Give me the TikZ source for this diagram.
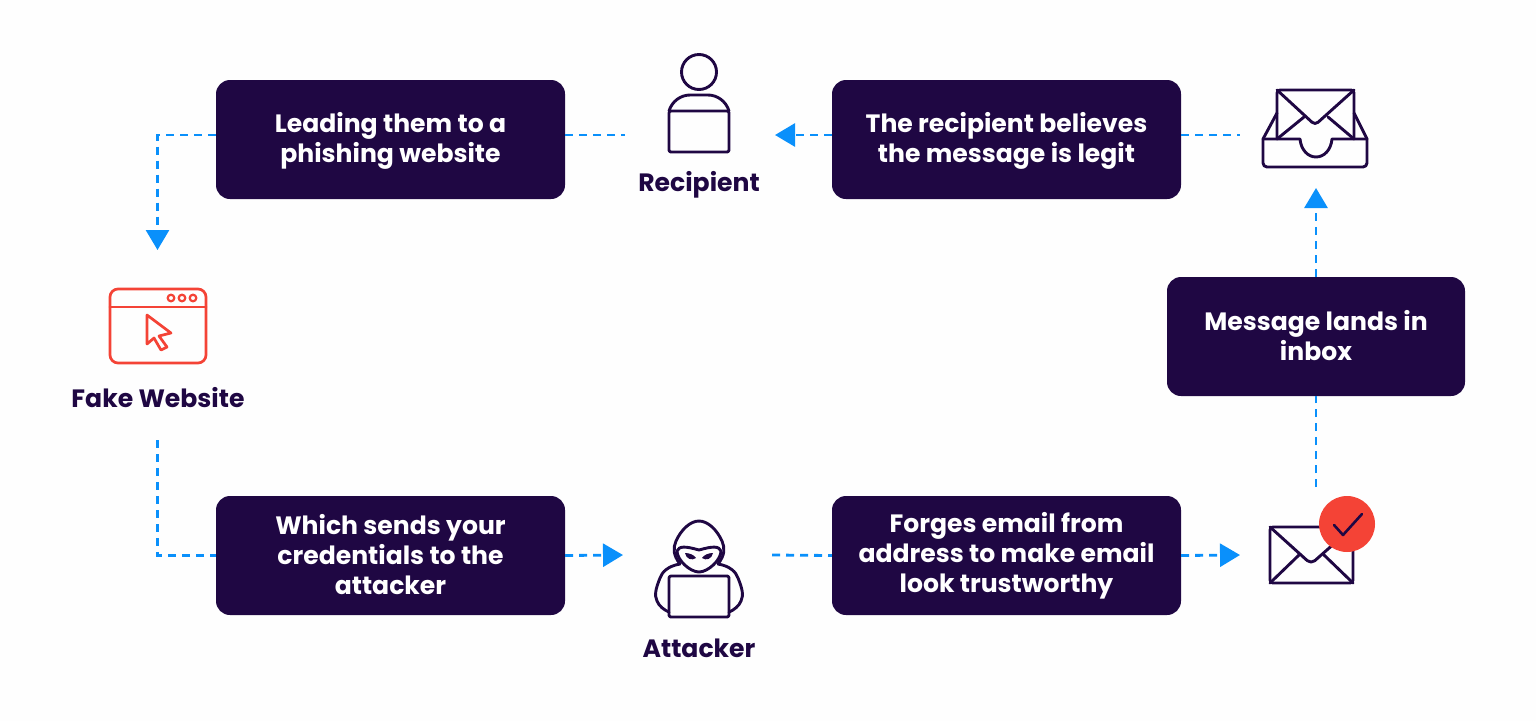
\documentclass[tikz,border=0pt]{standalone}
\usepackage{fontspec}
\setmainfont{Poppins}
\usetikzlibrary{arrows.meta}
\definecolor{ink}{HTML}{1F0743}
\definecolor{flow}{HTML}{0A90FB}
\definecolor{alert}{HTML}{F44336}
\definecolor{paper}{HTML}{FEFEFE}
\newcommand{\ls}{\rule[-4pt]{0pt}{25pt}}
\newcommand{\lt}{\rule[-2pt]{0pt}{25pt}}
\tikzset{
  msgbox/.style={fill=ink,rounded corners=14pt,text=white,align=center,inner sep=0pt,
    font=\fontsize{25.1}{30}\selectfont\bfseries},
  caption/.style={text=ink,inner sep=0pt,anchor=base,font=\fontsize{25.1}{30}\selectfont\bfseries},
  link/.style={flow,line width=2.8pt,dash pattern=on 8pt off 6pt},
  go/.style={link,-{Triangle[length=20pt,width=23pt]}},
  icon/.style={ink,line width=2.9pt,line join=round,line cap=round},
  redicon/.style={alert,line width=2.7pt,line join=round,line cap=round}
}
\begin{document}
\begin{tikzpicture}[x=1pt,y=-1pt]
\useasboundingbox[fill=paper] (0,0) rectangle (1536,721);
% boxes
\node[msgbox,minimum width=349pt,minimum height=119pt] (lead) at (390.5,139.5) {\lt Leading them to a\\\lt phishing website};
\node[msgbox,minimum width=349pt,minimum height=119pt] (believe) at (1006.5,139.5) {\lt The recipient believes\\\lt the message is legit};
\node[msgbox,minimum width=298pt,minimum height=119pt] (lands) at (1316,336.5) {\ls Message lands in\\\ls inbox};
\node[msgbox,minimum width=349pt,minimum height=119pt] (sends) at (390.5,555.5) {\ls Which sends your\\\ls credentials to the\\\ls attacker};
\node[msgbox,minimum width=349pt,minimum height=119pt] (forges) at (1006.5,555.5) {\ls Forges email from\\\ls address to make email\\\ls look trustworthy};
% captions
\node[caption] (recipient) at (699,191.5) {Recipient};
\node[caption] (fake) at (158,407) {Fake Website};
\node[caption] (attacker) at (699,657) {Attacker};
% icon anchor points
\coordinate (trayL) at (1240,135);
\coordinate (personR) at (625,135);
\coordinate (personL) at (775,135);
\coordinate (webTop) at (157.5,250);
\coordinate (webBot) at (157.5,440);
\coordinate (hoodL) at (623,555);
\coordinate (hoodR) at (772,555);
\coordinate (mailL) at (1240,555);
\coordinate (mailT) at (1316,487);
\coordinate (trayB) at (1316,188);
% connectors
\draw[link] (believe.east |- trayL) -- (trayL);
\draw[go] (believe.west |- personL) -- (personL);
\draw[link] (lead.east |- personR) -- (personR);
\draw[go] (lead.west |- personR) -| (webTop);
\draw[link] (webBot) |- (sends.west);
\draw[go] (sends.east) -- (hoodL);
\draw[link] (hoodR) -- (forges.west);
\draw[go] (forges.east) -- (mailL);
\draw[link] (mailT) -- (lands.south);
\draw[go] (lands.north) -- (trayB);
% recipient icon
\draw[icon] (699,72) circle (17.5);
\draw[icon,rounded corners=2pt] (669,111) rectangle (729,152);
\draw[icon] (669,111) .. controls (672,101) and (681,95) .. (690,95) -- (708,95) .. controls (717,95) and (726,101) .. (729,111);
% inbox icon
\draw[icon,rounded corners=3pt] (1277,139) -- (1277,90) -- (1354,90) -- (1354,139);
\draw[icon,rounded corners=4pt] (1277,90) -- (1315,125) -- (1354,90);
\draw[icon] (1277,139) -- (1304,117) (1354,139) -- (1328,117);
\draw[icon] (1263,139) -- (1277,113) (1367,139) -- (1354,113);
\draw[icon,rounded corners=4pt] (1263,139) -- (1263,167) -- (1367,167) -- (1367,139);
\draw[icon] (1263,139) -- (1300,139) .. controls (1301,150) and (1308,157) .. (1316,157) .. controls (1324,157) and (1331,150) .. (1332,139) -- (1367,139);
% browser icon
\draw[redicon,rounded corners=8pt] (110,289) rectangle (206,363);
\draw[redicon] (110,307) -- (206,307);
\draw[redicon,line width=2.2pt] (171,298) circle (3.3) (182,298) circle (3.3) (193,298) circle (3.3);
\draw[redicon] (147,315) -- (171,333) -- (159,336) -- (167,347) -- (161,350) -- (154,338) -- (147,344) -- cycle;
% attacker icon
\draw[icon,rounded corners=2pt] (669,576) rectangle (729,617);
\draw[icon] (680,564) .. controls (673,555) and (673,548) .. (676,541) .. controls (681,530) and (690,521) .. (699,521) .. controls (708,521) and (717,530) .. (722,541) .. controls (725,548) and (725,555) .. (718,564);
\draw[icon] (677,551) .. controls (679,546) and (685,546) .. (699,550) .. controls (713,546) and (719,546) .. (721,551) .. controls (721,560) and (708,572) .. (699,572) .. controls (690,572) and (677,560) .. (677,551);
\fill[ink] (685,553) .. controls (690,553) and (694,555) .. (696,558) .. controls (692,561) and (686,559) .. (685,553);
\fill[ink] (713,553) .. controls (708,553) and (704,555) .. (702,558) .. controls (706,561) and (712,559) .. (713,553);
\draw[icon] (680,564) .. controls (668,566) and (662,572) .. (660,578) .. controls (656,588) and (654,595) .. (657,601) .. controls (659,606) and (664,610) .. (669,612);
\draw[icon] (718,564) .. controls (730,566) and (736,572) .. (738,578) .. controls (742,588) and (744,595) .. (741,601) .. controls (739,606) and (734,610) .. (729,612);
% mail icon
\draw[icon,rounded corners=3pt] (1270,527) rectangle (1353,583);
\draw[icon,rounded corners=5pt] (1270,527) -- (1311,564) -- (1353,527);
\draw[icon] (1270,583) -- (1299,555) (1353,583) -- (1324,555);
\fill[alert] (1347,524) circle (28);
\draw[icon,line width=2.6pt] (1334,525) -- (1343,535) -- (1362,514);
\end{tikzpicture}
\end{document}
